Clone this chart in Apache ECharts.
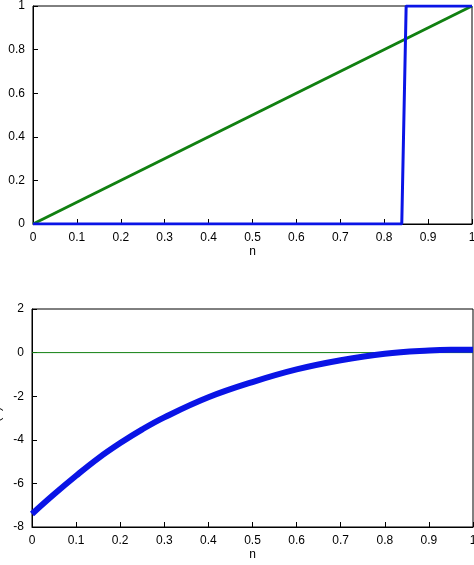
<!DOCTYPE html><html><head><meta charset="utf-8"><script src="https://cdn.jsdelivr.net/npm/echarts@6/dist/echarts.min.js"></script></head><body style="margin:0"><div id="c" style="width:474px;height:565px"></div><script>
const stepX=[0,0.84,0.85,1];
const stepY=[0,0,1,1];
const lineX=[0,1];
const lineY=[0,1];
const fX=[0,0.05,0.1,0.15,0.2,0.25,0.3,0.4,0.5,0.6,0.7,0.8,0.9,0.95,1];
const fY=[-7.4,-6.5,-5.65,-4.85,-4.15,-3.52,-2.97,-2.05,-1.35,-0.77,-0.35,-0.05,0.1,0.13,0.13];
const zeroX=[0,1], zeroY=[0,0];
const z=(a,b)=>a.map((v,i)=>[v,b[i]]);
const ax={fontFamily:'Liberation Sans',fontSize:12,color:'#000'};
const mkX=(i)=>({gridIndex:i,type:'value',min:0,max:1,interval:0.1,name:'n',nameLocation:'middle',nameGap:22,nameTextStyle:ax,
 axisLabel:Object.assign({},ax,{formatter:v=>v===0?'0':v===1?'1':v.toFixed(1)}),
 axisLine:{onZero:false,lineStyle:{color:'#000'}},axisTick:{inside:true,lineStyle:{color:'#000'}},splitLine:{show:false}});
const mkY=(i,min,max,int,name,fmt)=>({gridIndex:i,type:'value',min,max,interval:int,name,nameLocation:'middle',nameGap:20,nameTextStyle:ax,
 axisLabel:Object.assign({},ax,{formatter:fmt}),axisLine:{onZero:false,lineStyle:{color:'#000'}},axisTick:{inside:true,lineStyle:{color:'#000'}},splitLine:{show:false}});
const c=echarts.init(document.getElementById('c'));
c.setOption({animation:false,backgroundColor:'#fff',
grid:[{left:33,right:2,top:6,bottom:341,show:true,borderColor:'#000',containLabel:false,outerBoundsMode:'none'},{left:32,right:1,top:309,bottom:38,show:true,borderColor:'#000',containLabel:false,outerBoundsMode:'none'}],
xAxis:[mkX(0),mkX(1)],
yAxis:[mkY(0,0,1,0.2,'f(n)',v=>v===0?'0':v===1?'1':v.toFixed(1)),mkY(1,-8,2,2,'F(n)',v=>String(v))],
series:[
{type:'line',xAxisIndex:0,yAxisIndex:0,data:z(lineX,lineY),symbol:'none',lineStyle:{color:'#118011',width:3}},
{type:'line',xAxisIndex:0,yAxisIndex:0,data:z(stepX,stepY),symbol:'none',lineStyle:{color:'#0a14e6',width:3}},
{type:'line',xAxisIndex:1,yAxisIndex:1,data:z(zeroX,zeroY),symbol:'none',lineStyle:{color:'#118011',width:1}},
{type:'line',xAxisIndex:1,yAxisIndex:1,data:z(fX,fY),smooth:0.4,symbol:'none',lineStyle:{color:'#0a14e6',width:6}}
]});
</script></body></html>
